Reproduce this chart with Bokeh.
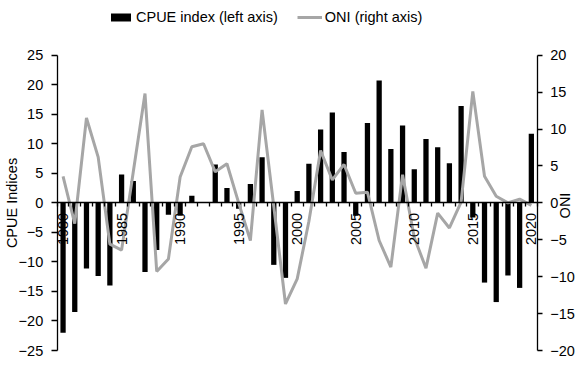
from math import pi
from bokeh.plotting import figure
from bokeh.models import (Range1d, LinearAxis, FixedTicker, Legend, LegendItem,
                          Label, ColumnDataSource)
from bokeh.embed import file_html
from bokeh.resources import INLINE

# ---- data -------------------------------------------------------------
years = list(range(1980, 2021))
cpue = [-22.0, -18.5, -11.1, -12.4, -14.0, 4.8, 3.7, -11.7, -8.0, -2.0,
        -2.2, 1.2, 0.0, 6.5, 2.5, -1.0, 3.2, 7.7, -10.5, -12.7,
        2.0, 6.6, 12.4, 15.3, 8.6, -2.2, 13.5, 20.7, 9.1, 13.1,
        5.7, 10.8, 9.4, 6.7, 16.4, -2.5, -13.5, -16.8, -12.3, -14.4,
        11.7]
oni = [3.6, -2.8, 11.5, 6.2, -5.6, -6.4, 4.2, 14.8, -9.3, -7.6,
       3.5, 7.6, 8.0, 4.2, 5.3, 0.0, -5.1, 12.6, -0.5, -13.7,
       -10.3, -2.5, 7.1, 3.1, 5.2, 1.3, 1.45, -5.1, -8.7, 3.8,
       -4.7, -8.85, -1.4, -3.4, 0.1, 15.1, 3.6, 0.9, 0.0, 0.5,
       -0.35]
left_ticks = [-25, -20, -15, -10, -5, 0, 5, 10, 15, 20, 25]
right_ticks = [-20, -15, -10, -5, 0, 5, 10, 15, 20]
year_ticks = [1980, 1985, 1990, 1995, 2000, 2005, 2010, 2015, 2020]
series_names = ["CPUE index (left axis)", "ONI (right axis)"]
left_title = "CPUE Indices"
right_title = "ONI"

# ---- layout & style -----------------------------------------------------------
FONT = "Liberation Sans"
FS = "14.5px"
BAR_COLOR = "#000000"
LINE_COLOR = "#A6A6A6"
W, H = 575, 382
# pixel box of the plot area inside the canvas
PL, PR, PT, PB = 56.7, 536.7, 54.7, 350.0


def padded_range(lo, hi, px_lo, px_hi, total, flip=False):
    scale = (px_hi - px_lo) / (hi - lo)
    if flip:  # vertical: px measured from top
        return Range1d(lo - (total - px_hi) / scale, hi + px_lo / scale)
    return Range1d(lo - px_lo / scale, hi + (total - px_hi) / scale)


x_lo, x_hi = years[0] - 0.5, years[-1] + 0.5
src = ColumnDataSource(dict(year=years, cpue=cpue, oni=oni))

p = figure(width=W, height=H, output_backend="svg", toolbar_location=None,
           x_range=padded_range(x_lo, x_hi, PL, PR, W),
           y_range=padded_range(left_ticks[0], left_ticks[-1], PT, PB, H, flip=True),
           x_axis_location=None, y_axis_location=None,
           min_border=0, min_border_left=0, min_border_right=0,
           min_border_top=0, min_border_bottom=0)
p.outline_line_color = None
p.background_fill_color = "white"
p.border_fill_color = "white"
for g in p.grid:
    g.visible = False
p.extra_y_ranges = {"oni": padded_range(right_ticks[0], right_ticks[-1], PT, PB, H, flip=True)}

bars = p.vbar(x="year", top="cpue", width=0.45, source=src,
              fill_color=BAR_COLOR, line_color=None)
line = p.line(x="year", y="oni", source=src, y_range_name="oni",
              line_color=LINE_COLOR, line_width=3)


def style_axis(ax):
    ax.axis_line_color = "black"
    ax.axis_line_width = 1.3
    ax.major_tick_line_color = "black"
    ax.major_tick_line_width = 1.3
    ax.minor_tick_line_color = None
    ax.major_tick_in = 0
    ax.major_label_text_font = FONT
    ax.major_label_text_font_size = FS
    ax.major_label_text_color = "black"
    ax.axis_label_text_font = FONT
    ax.axis_label_text_font_size = FS
    ax.axis_label_text_font_style = "normal"
    ax.axis_label_text_color = "black"


yl = LinearAxis(fixed_location=x_lo, bounds=(left_ticks[0], left_ticks[-1]),
                ticker=FixedTicker(ticks=left_ticks), axis_label=left_title)
style_axis(yl)
yl.major_tick_out = 6
yl.major_label_standoff = 8
yl.axis_label_standoff = -4
p.add_layout(yl, "left")

yr = LinearAxis(y_range_name="oni", fixed_location=x_hi,
                bounds=(right_ticks[0], right_ticks[-1]),
                ticker=FixedTicker(ticks=right_ticks))
style_axis(yr)
yr.major_tick_out = 5
yr.major_label_standoff = 8
p.add_layout(yr, "right")

boundaries = [y - 0.5 for y in years] + [years[-1] + 0.5]
xa = LinearAxis(fixed_location=0, bounds=(x_lo, x_hi),
                ticker=FixedTicker(ticks=year_ticks, minor_ticks=boundaries))
style_axis(xa)
xa.major_tick_out = 0
xa.major_tick_line_color = None
xa.minor_tick_line_color = "black"
xa.minor_tick_line_width = 1.3
xa.minor_tick_out = 4
xa.minor_tick_in = 0
xa.major_label_orientation = pi / 2
xa.major_label_standoff = 6
p.add_layout(xa, "below")

legend = Legend(items=[LegendItem(label=series_names[0], renderers=[bars]),
                       LegendItem(label=series_names[1], renderers=[line])],
                location=(108, H - 25), orientation="horizontal",
                padding=0, margin=0, spacing=19, label_standoff=3,
                glyph_width=25, glyph_height=10, label_height=17,
                border_line_color=None, background_fill_alpha=0,
                label_text_font=FONT, label_text_font_size=FS,
                label_text_color="black")
p.add_layout(legend, "center")

p.add_layout(Label(x=564, y=H - 205, x_units="screen", y_units="screen",
                   text=right_title, angle=pi / 2, text_align="center",
                   text_baseline="middle", text_font=FONT,
                   text_font_size=FS, text_color="black"))

open("out.html", "w").write(file_html(p, INLINE))
